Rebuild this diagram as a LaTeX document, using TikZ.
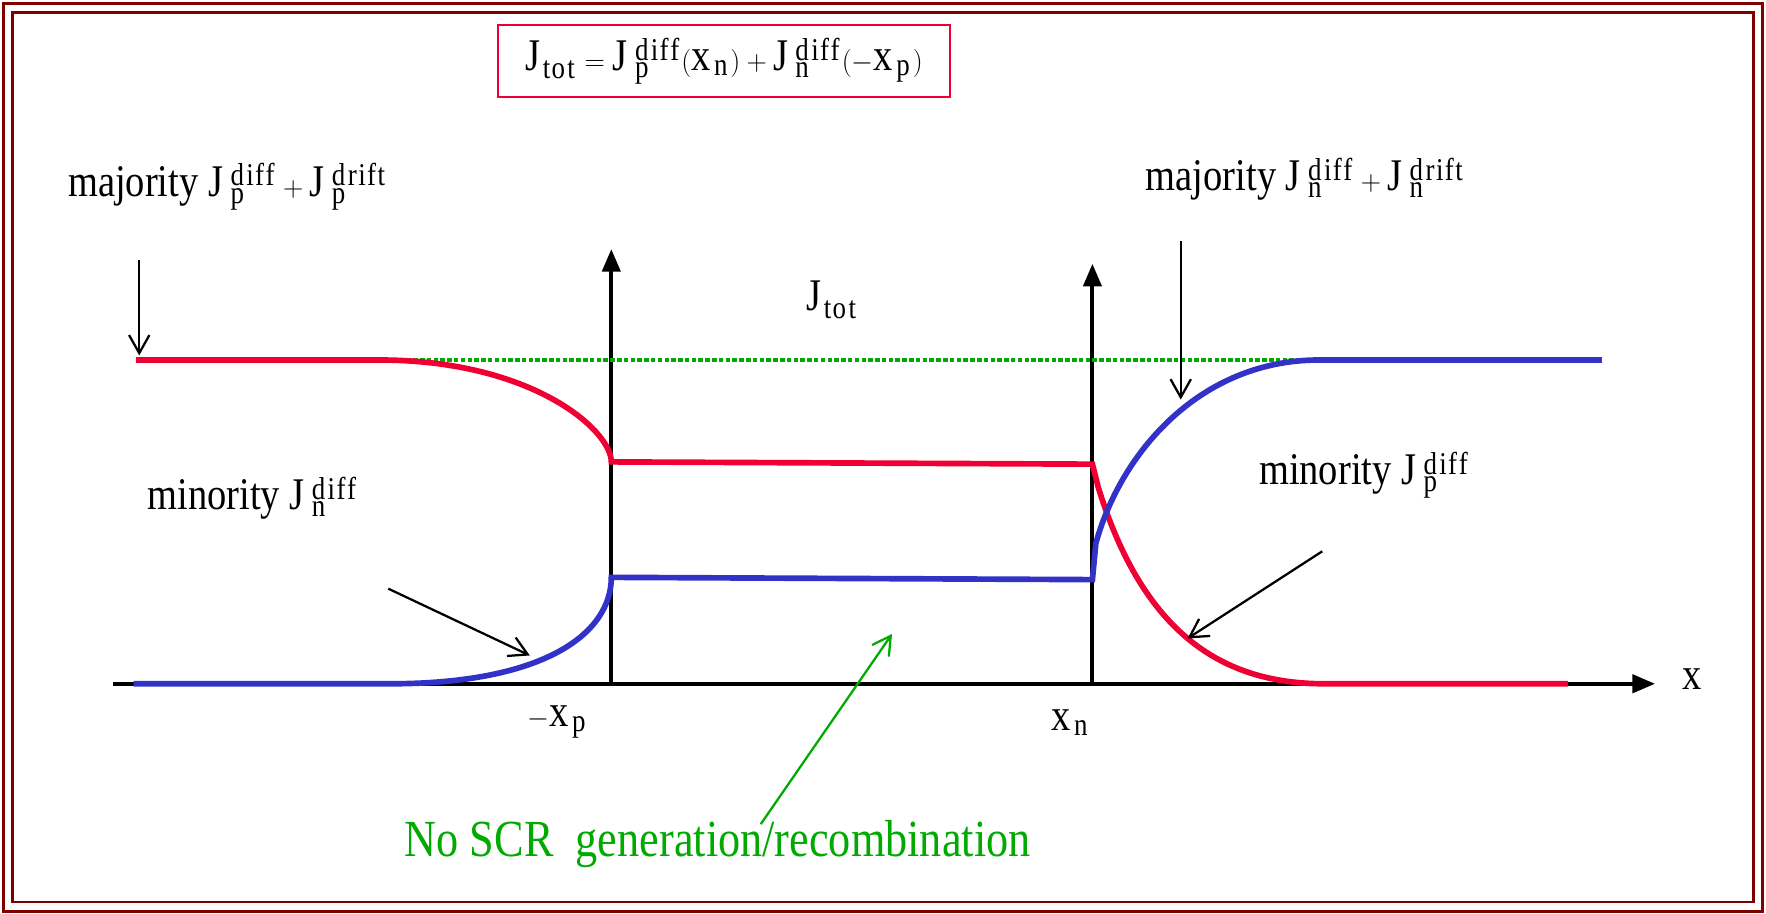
\documentclass[tikz,border=0pt]{standalone}
\usepackage{fontspec}
\setmainfont{Liberation Serif}[FakeStretch=0.85]
\usetikzlibrary{arrows.meta}
\definecolor{dred}{RGB}{128,0,0}
\definecolor{cred}{RGB}{240,0,50}
\definecolor{cblue}{RGB}{50,50,200}
\definecolor{cgreen}{RGB}{0,170,0}
\newcommand\JS[2]{\mathrm{J}^{\,\mathrm{#1}}_{\,\mathrm{#2}}}
\begin{document}
\begin{tikzpicture}[x=1pt,y=-1pt,
  lbl/.style={inner sep=0pt,font=\fontsize{40}{46}\selectfont},
  curve/.style={line width=5pt},
  ptr/.style={line width=2pt,-{Straight Barb[length=16pt,width=18pt]}},
  ax/.style={line width=3.5pt,-{Triangle[length=20pt,width=16pt]}}]
\useasboundingbox (0,0) rectangle (1560,807);
\draw[dred,line width=3pt] (3,3) rectangle (1557,805);
\draw[dred,line width=2pt] (11,11) rectangle (1549,797);
\node[draw=cred,line width=2pt,minimum width=399pt,minimum height=64pt,lbl] (f) at (639.5,54)
  {$\mathrm{J}_{\mathrm{tot}}=\JS{diff}{p}(\mathrm{x_n})+\JS{diff}{n}(-\mathrm{x_p})$};
% axes
\coordinate (o) at (100,604); \coordinate (xe) at (1462,604);
\draw[ax] (o) -- (xe);
\coordinate (a1) at (540,604); \coordinate (a1t) at (540,220);
\coordinate (a2) at (965,604); \coordinate (a2t) at (965,233);
\draw[ax] (a1) -- (a1t);
\draw[ax] (a2) -- (a2t);
% green dotted
\draw[cgreen,line width=4pt,dotted] (335,318) -- (1165,318);
% red
\draw[cred,curve] (120,318) -- (335,318) .. controls (470,318) and (540,380) .. (540,408)
  -- (965,410) -- (970,430) .. controls (1010,560) and (1080,604) .. (1170,604) -- (1385,604);
% blue
\draw[cblue,curve] (118,604) -- (345,604) .. controls (480,604) and (540,560) .. (540,510)
  -- (965,512) -- (968,480) .. controls (990,400) and (1060,318) .. (1165,318) -- (1415,318);
% arrows
\coordinate (p1) at (123,230); \coordinate (q1) at (123,314);
\coordinate (p2) at (1043,213); \coordinate (q2) at (1043,353);
\coordinate (p3) at (343,520); \coordinate (q3) at (468,579);
\coordinate (p4) at (1168,487); \coordinate (q4) at (1049,564);
\coordinate (p5) at (672,728); \coordinate (q5) at (788,560);
\draw[ptr] (p1) -- (q1);
\draw[ptr] (p2) -- (q2);
\draw[ptr] (p3) -- (q3);
\draw[ptr] (p4) -- (q4);
\draw[ptr,cgreen] (p5) -- (q5);
% labels
\node[lbl,anchor=west] (m1) at (60,165) {majority $\JS{diff}{p}+\JS{drift}{p}$};
\node[lbl,anchor=west] (m2) at (1012,158) {majority $\JS{diff}{n}+\JS{drift}{n}$};
\node[lbl] (jt) at (735,265) {$\mathrm{J}_{\mathrm{tot}}$};
\node[lbl,anchor=west] (m3) at (130,440) {minority $\JS{diff}{n}$};
\node[lbl,anchor=west] (m4) at (1112,420) {minority $\JS{diff}{p}$};
\node[lbl] (xp) at (493,638) {$-\mathrm{x_p}$};
\node[lbl] (xn) at (946,638) {$\mathrm{x_n}$};
\node[lbl] (xx) at (1495,600) {x};
\node[lbl,text=cgreen,font=\fontsize{46}{52}\selectfont] (g) at (634,746) {No SCR\ \ generation/recombination};
\end{tikzpicture}
\end{document}
